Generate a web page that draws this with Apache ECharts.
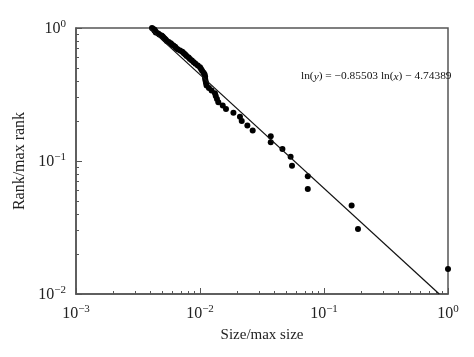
<!DOCTYPE html>
<html>
<head>
<meta charset="utf-8">
<script src="https://cdn.jsdelivr.net/npm/echarts@6/dist/echarts.min.js"></script>
<style>html,body{margin:0;padding:0;background:#fff;}#c{width:474px;height:357px;}</style>
</head>
<body>
<div id="c"></div>
<script>
// Rank-size data (rank 1 = largest size)
const sizeX = [1.0, 0.188, 0.167, 0.074, 0.074, 0.0552, 0.0538, 0.0462, 0.0372, 0.0372,
  0.0266, 0.0241, 0.0217, 0.021, 0.0186, 0.0162, 0.01525, 0.01405, 0.0137, 0.0134,
  0.0132, 0.0124, 0.0118, 0.0113, 0.0112, 0.0111, 0.0110, 0.0110, 0.0109, 0.0107,
  0.0104, 0.0102, 0.0100, 0.0096, 0.0092, 0.0089, 0.0086, 0.0083, 0.0081, 0.0078,
  0.0076, 0.0074, 0.0072, 0.0069, 0.0066, 0.0064, 0.0063, 0.0061, 0.0059, 0.0058,
  0.0056, 0.0054, 0.0053, 0.0052, 0.0051, 0.0050, 0.0049, 0.0047, 0.0046, 0.0044,
  0.0044, 0.0043, 0.0043, 0.0042, 0.0041];
const rankY = [0.0154, 0.0308, 0.0462, 0.0615, 0.0769, 0.0923, 0.1077, 0.1231, 0.1385, 0.1538,
  0.1692, 0.1846, 0.2, 0.2154, 0.2308, 0.2462, 0.2615, 0.2769, 0.2923, 0.3077,
  0.3231, 0.3385, 0.3538, 0.3692, 0.3846, 0.4, 0.4154, 0.4308, 0.4462, 0.4615,
  0.4769, 0.4923, 0.5077, 0.5231, 0.5385, 0.5538, 0.5692, 0.5846, 0.6, 0.6154,
  0.6308, 0.6462, 0.6615, 0.6769, 0.6923, 0.7077, 0.7231, 0.7385, 0.7538, 0.7692,
  0.7846, 0.8, 0.8154, 0.8308, 0.8462, 0.8615, 0.8769, 0.8923, 0.9077, 0.9231,
  0.9385, 0.9538, 0.9692, 0.9846, 1.0];
// Fit: ln(y) = slope*ln(x) + intercept
const fitSlope = -0.85503;
const fitIntercept = -4.74389;
const fitXEnds = [0.0039, 0.85];

const points = sizeX.map((x, i) => [x, rankY[i]]);
const fitLine = fitXEnds.map(x => [x, Math.exp(fitIntercept) * Math.pow(x, fitSlope)]);

const serif = 'Liberation Serif';
function powLabel(v) {
  const e = Math.round(Math.log10(v));
  const s = e < 0 ? '\u2212' + Math.abs(e) : String(e);
  return '{b|10}{s|' + s + '}';
}
const richLab = {
  b: {fontSize: 16, fontFamily: serif, color: '#222', lineHeight: 18, verticalAlign: 'bottom'},
  s: {fontSize: 11, fontFamily: serif, color: '#222', lineHeight: 18, verticalAlign: 'top', padding: [0, 0, 8, 0]}
};
const axisCol = '#555';

const chart = echarts.init(document.getElementById('c'), null, {renderer: 'canvas'});
chart.setOption({
  backgroundColor: '#fff',
  animation: false,
  title: {
    text: 'ln({i|y}) = \u22120.85503 ln({i|x}) \u2212 4.74389',
    left: 296, top: 66,
    textStyle: {
      fontSize: 11.4, fontFamily: serif, fontWeight: 'normal', color: '#111',
      rich: {i: {fontSize: 11.4, fontFamily: serif, fontStyle: 'italic', color: '#111'}}
    }
  },
  grid: {left: 76, right: 26, top: 28, bottom: 63, show: true, borderColor: axisCol, borderWidth: 1.5, backgroundColor: 'transparent'},
  xAxis: {
    type: 'log', logBase: 10, min: 0.001, max: 1,
    name: 'Size/max size', nameLocation: 'middle', nameGap: 34,
    nameTextStyle: {fontSize: 15, fontFamily: serif, color: '#222'},
    axisLine: {lineStyle: {color: axisCol, width: 1.5}},
    axisTick: {inside: true, length: 6, lineStyle: {color: axisCol}},
    minorTick: {show: true, splitNumber: 9, length: 3, lineStyle: {color: axisCol}},
    axisLabel: {formatter: powLabel, rich: richLab, margin: 10},
    splitLine: {show: false}
  },
  yAxis: {
    type: 'log', logBase: 10, min: 0.01, max: 1,
    name: 'Rank/max rank', nameLocation: 'middle', nameGap: 42,
    nameTextStyle: {fontSize: 16, fontFamily: serif, color: '#222'},
    axisLine: {lineStyle: {color: axisCol, width: 1.5}},
    axisTick: {inside: true, length: 6, lineStyle: {color: axisCol}},
    minorTick: {show: true, splitNumber: 9, length: 3, lineStyle: {color: axisCol}},
    axisLabel: {formatter: powLabel, rich: richLab, margin: 10},
    splitLine: {show: false}
  },
  series: [
    {
      type: 'line', data: fitLine, symbol: 'none', silent: true,
      lineStyle: {color: '#111', width: 1.2}
    },
    {
      type: 'scatter', data: points, symbol: 'circle', symbolSize: 6, clip: false,
      itemStyle: {color: '#000', opacity: 1}
    }
  ]
});
</script>
</body>
</html>
